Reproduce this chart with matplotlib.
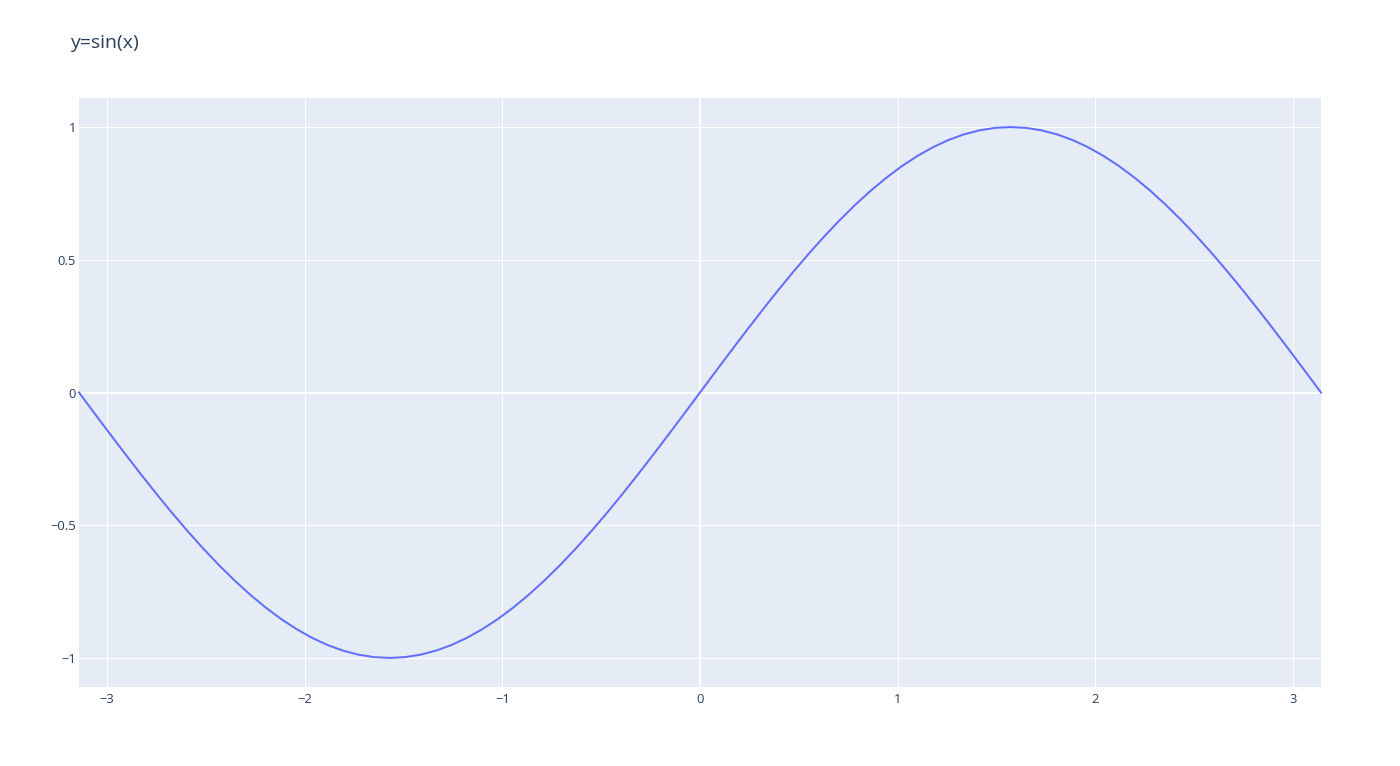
import matplotlib
matplotlib.use("Agg")
import matplotlib.pyplot as plt

x_vals = [-3.1416, -3.0631, -2.9845, -2.9060, -2.8274, -2.7489, -2.6704, -2.5918,
          -2.5133, -2.4347, -2.3562, -2.2777, -2.1991, -2.1206, -2.0420, -1.9635,
          -1.8850, -1.8064, -1.7279, -1.6493, -1.5708, -1.4923, -1.4137, -1.3352,
          -1.2566, -1.1781, -1.0996, -1.0210, -0.9425, -0.8639, -0.7854, -0.7069,
          -0.6283, -0.5498, -0.4712, -0.3927, -0.3142, -0.2356, -0.1571, -0.0785,
          0.0,
          0.0785, 0.1571, 0.2356, 0.3142, 0.3927, 0.4712, 0.5498, 0.6283,
          0.7069, 0.7854, 0.8639, 0.9425, 1.0210, 1.0996, 1.1781, 1.2566,
          1.3352, 1.4137, 1.4923, 1.5708, 1.6493, 1.7279, 1.8064, 1.8850,
          1.9635, 2.0420, 2.1206, 2.1991, 2.2777, 2.3562, 2.4347, 2.5133,
          2.5918, 2.6704, 2.7489, 2.8274, 2.9060, 2.9845, 3.0631, 3.1416]
y_vals = [0.0, -0.0785, -0.1564, -0.2334, -0.3090, -0.3827, -0.4540, -0.5225,
          -0.5878, -0.6494, -0.7071, -0.7604, -0.8090, -0.8526, -0.8910, -0.9239,
          -0.9511, -0.9724, -0.9877, -0.9969, -1.0, -0.9969, -0.9877, -0.9724,
          -0.9511, -0.9239, -0.8910, -0.8526, -0.8090, -0.7604, -0.7071, -0.6494,
          -0.5878, -0.5225, -0.4540, -0.3827, -0.3090, -0.2334, -0.1564, -0.0785,
          0.0,
          0.0785, 0.1564, 0.2334, 0.3090, 0.3827, 0.4540, 0.5225, 0.5878,
          0.6494, 0.7071, 0.7604, 0.8090, 0.8526, 0.8910, 0.9239, 0.9511,
          0.9724, 0.9877, 0.9969, 1.0, 0.9969, 0.9877, 0.9724, 0.9511,
          0.9239, 0.8910, 0.8526, 0.8090, 0.7604, 0.7071, 0.6494, 0.5878,
          0.5225, 0.4540, 0.3827, 0.3090, 0.2334, 0.1564, 0.0785, 0.0]
x_ticks = [-3, -2, -1, 0, 1, 2, 3]
y_ticks = [-1, -0.5, 0, 0.5, 1]
y_ticklabels = ["\u22121", "\u22120.5", "0", "0.5", "1"]
title = "y=sin(x)"

TEXT = "#2a3f5f"
BG = "#E5ECF6"
LINE = "#636EFA"
W, H = 1400, 766

plt.rcParams["font.family"] = ["Open Sans", "DejaVu Sans"]

fig = plt.figure(figsize=(W / 100, H / 100), dpi=100)
ax = fig.add_axes([79 / W, 1 - 687 / H, (1321 - 79) / W, (687 - 98) / H])
ax.set_facecolor(BG)
for s in ax.spines.values():
    s.set_visible(False)

ax.set_xlim(x_vals[0], x_vals[-1])
ax.set_ylim(-1.1095, 1.1095)
ax.set_xticks(x_ticks)
ax.set_yticks(y_ticks)
ax.set_yticklabels(y_ticklabels)
ax.tick_params(length=0, labelsize=9.4, colors=TEXT)
ax.tick_params(axis="x", pad=4)
ax.tick_params(axis="y", pad=2)
ax.grid(True, color="white", linewidth=0.75)
ax.set_axisbelow(True)
ax.axhline(0, color="white", linewidth=1.5, zorder=1.5)
ax.axvline(0, color="white", linewidth=1.5, zorder=1.5)

ax.plot(x_vals, y_vals, color=LINE, linewidth=1.45, zorder=3, clip_on=False,
        solid_joinstyle="round")

fig.text(70 / W, 1 - 43 / H, title, fontsize=14, color=TEXT, va="center", ha="left")

fig.savefig("out.png", dpi=100, facecolor="white")
